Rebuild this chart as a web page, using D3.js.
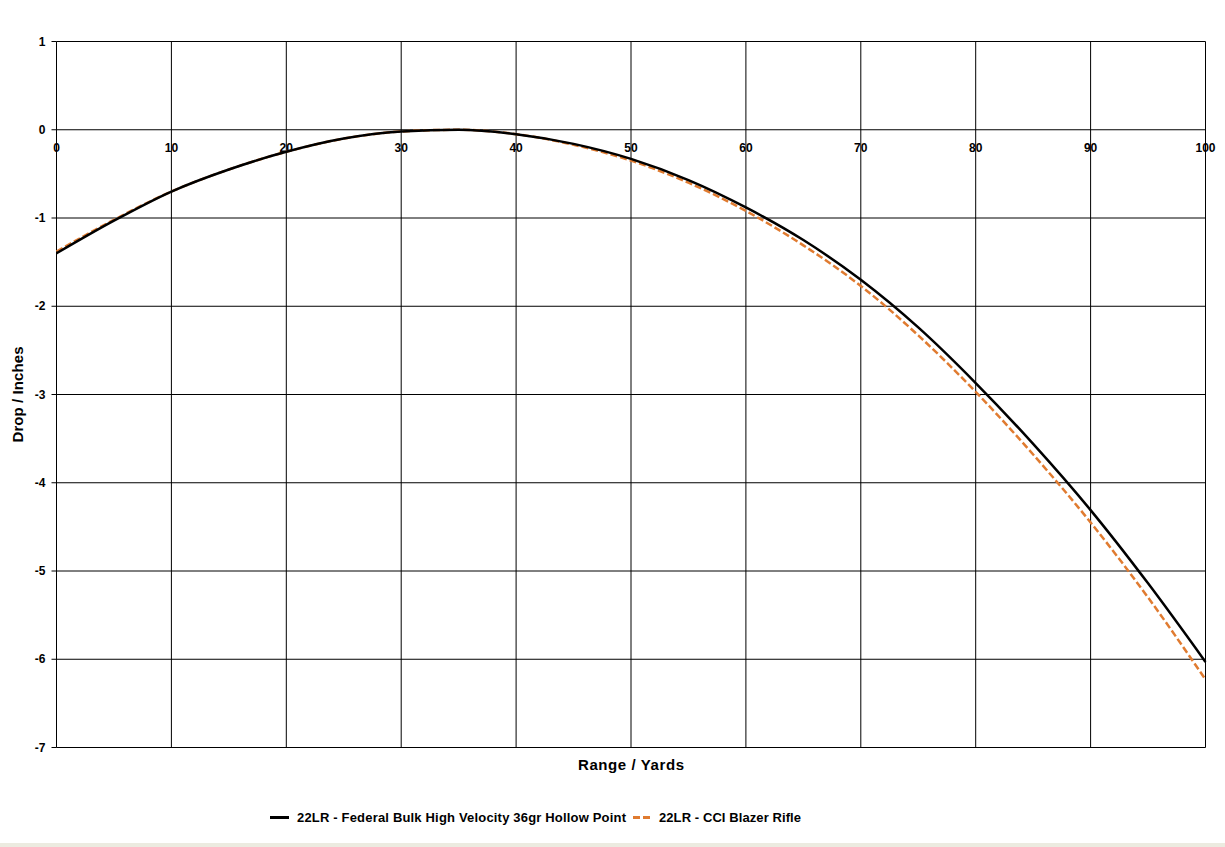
<!DOCTYPE html>
<html><head><meta charset="utf-8">
<script src="https://cdn.jsdelivr.net/npm/d3@7"></script>
<style>
html,body{margin:0;padding:0;background:#fff;}
svg{display:block;}
text{font-family:"Liberation Sans",Arial,sans-serif;font-weight:bold;fill:#000;}
</style></head><body>
<svg id="c" width="1225" height="847"></svg>
<script>
const ranges = [0,5,10,15,20,25,30,35,40,45,50,55,60,65,70,75,80,85,90,95,100];
const federal = [-1.40,-1.03,-0.70,-0.45,-0.25,-0.10,-0.02,0.00,-0.05,-0.16,-0.33,-0.57,-0.88,-1.25,-1.70,-2.24,-2.87,-3.56,-4.31,-5.14,-6.03];
const cci = [-1.38,-1.02,-0.70,-0.45,-0.25,-0.10,-0.02,0.00,-0.05,-0.17,-0.35,-0.60,-0.92,-1.31,-1.77,-2.33,-2.97,-3.68,-4.45,-5.30,-6.23];
const xTicks = [0,10,20,30,40,50,60,70,80,90,100];
const yTicks = [1,0,-1,-2,-3,-4,-5,-6,-7];
const seriesNames = ["22LR - Federal Bulk High Velocity 36gr Hollow Point","22LR - CCI Blazer Rifle"];

const svg = d3.select("#c");
const L=56.5,R=1205.5,T=41.5,B=747.5;
const x = d3.scaleLinear().domain([0,100]).range([L,R]);
const y = d3.scaleLinear().domain([-7,1]).range([B,T]);

svg.append("rect").attr("x",0).attr("y",843).attr("width",1225).attr("height",4).attr("fill","#ecebe0");

const g = svg.append("g");
g.selectAll(".vg").data(xTicks).enter().append("line")
 .attr("x1",d=>x(d)).attr("x2",d=>x(d)).attr("y1",T).attr("y2",B)
 .attr("stroke","#000").attr("stroke-width",1);
g.selectAll(".hg").data(yTicks).enter().append("line")
 .attr("x1",L).attr("x2",R).attr("y1",d=>y(d)).attr("y2",d=>y(d))
 .attr("stroke","#000").attr("stroke-width",1);
g.selectAll(".yt").data(yTicks).enter().append("line")
 .attr("x1",L-5).attr("x2",L).attr("y1",d=>y(d)).attr("y2",d=>y(d))
 .attr("stroke","#000");
g.selectAll(".yl").data(yTicks).enter().append("text")
 .attr("x",L-11).attr("y",d=>y(d)+4).attr("text-anchor","end")
 .attr("font-size",12).text(d=>d);
g.selectAll(".xl").data(xTicks).enter().append("text")
 .attr("x",d=>x(d)).attr("y",y(0)+22).attr("text-anchor","middle")
 .attr("font-size",12).text(d=>d);

const line = d3.line().x((d,i)=>x(ranges[i])).y(d=>y(d)).curve(d3.curveMonotoneX);
svg.append("path").datum(cci).attr("d",line).attr("fill","none")
 .attr("stroke","#e07b30").attr("stroke-width",2.5).attr("stroke-dasharray","7,3");
svg.append("path").datum(federal).attr("d",line).attr("fill","none")
 .attr("stroke","#000").attr("stroke-width",2.5);

svg.append("text").attr("x",(L+R)/2).attr("y",770).attr("text-anchor","middle")
 .attr("font-size",15).attr("textLength",106).text("Range / Yards");
svg.append("text").attr("transform","translate(23,"+((T+B)/2)+") rotate(-90)")
 .attr("text-anchor","middle").attr("font-size",15).attr("textLength",96).text("Drop / Inches");

const lg = svg.append("g");
lg.append("line").attr("x1",270).attr("x2",289).attr("y1",817.5).attr("y2",817.5)
 .attr("stroke","#000").attr("stroke-width",3);
lg.append("text").attr("x",297).attr("y",822).attr("font-size",13).attr("textLength",329).text(seriesNames[0]);
lg.append("line").attr("x1",633).attr("x2",652).attr("y1",817.5).attr("y2",817.5)
 .attr("stroke","#e07b30").attr("stroke-width",3).attr("stroke-dasharray","7,3");
lg.append("text").attr("x",659).attr("y",822).attr("font-size",13).attr("textLength",142).text(seriesNames[1]);
</script>
</body></html>
